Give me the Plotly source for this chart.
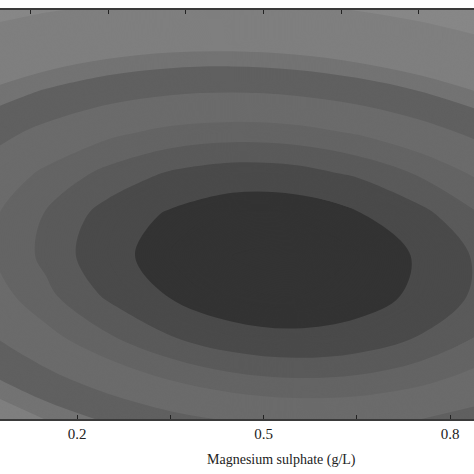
import plotly.graph_objects as go

# Magnesium sulphate (g/L) grid positions
magnesium = [0.05, 0.15, 0.25, 0.35, 0.45, 0.55, 0.65, 0.75, 0.85]
# second factor (axis hidden in the reference crop), normalised 0..1
factor2 = [0.0, 0.1, 0.2, 0.3, 0.4, 0.5, 0.6, 0.7, 0.8, 0.9, 1.0]
# estimated response surface (rows follow factor2, columns follow magnesium)
response = [
    [227.3, 206.3, 188.1, 173.4, 163.0, 157.9, 158.8, 165.5, 177.1],
    [197.0, 173.3, 152.2, 134.8, 122.5, 117.1, 119.8, 129.7, 145.4],
    [171.0, 144.3, 119.6, 98.1, 82.5, 76.5, 82.4, 98.0, 119.4],
    [151.9, 122.4, 93.7, 66.5, 44.1, 36.4, 50.9, 75.6, 103.5],
    [142.2, 111.7, 81.2, 50.7, 20.6, 11.8, 41.7, 72.1, 102.6],
    [144.0, 115.4, 88.1, 63.8, 47.5, 48.0, 65.0, 89.5, 117.0],
    [156.8, 132.3, 110.8, 94.4, 86.2, 88.4, 100.3, 119.1, 142.1],
    [178.2, 158.2, 141.9, 130.7, 126.3, 129.1, 138.7, 153.9, 173.3],
    [205.7, 189.5, 177.0, 169.2, 166.8, 169.9, 178.3, 191.2, 207.9],
    [237.1, 223.9, 214.2, 208.6, 207.4, 210.7, 218.3, 229.7, 244.4],
    [271.0, 260.2, 252.5, 248.4, 248.1, 251.6, 258.6, 268.9, 282.2],
]
# band thresholds and grey tones of the filled contours
thresholds = [0, 68, 97, 117, 137, 166, 192, 207, 258, 300]
greys = ["#333333", "#4a4a4a", "#5a5a5a", "#646464", "#6b6b6b",
         "#606060", "#737373", "#7f7f7f", "#878787"]

bottom_ticks = [0.2, 0.35, 0.5, 0.65, 0.8]
bottom_labels = ["0.2", "", "0.5", "", "0.8"]
top_ticks = [0.125, 0.25, 0.375, 0.5, 0.625, 0.75]

ZMAX = thresholds[-1]
colorscale = []
for i, g in enumerate(greys):
    colorscale.append([thresholds[i] / ZMAX, g])
    colorscale.append([thresholds[i + 1] / ZMAX, g])

x_range = [0.0761, 0.8385]

fig = go.Figure()
fig.add_trace(go.Contour(
    x=magnesium, y=factor2, z=response,
    colorscale=colorscale, zmin=0, zmax=ZMAX, autocontour=False,
    contours=dict(start=0, end=ZMAX, size=1, coloring="fill", showlines=False),
    line=dict(width=0, smoothing=1.0),
    showscale=False, hoverinfo="skip",
))
# invisible trace to anchor the top axis
fig.add_trace(go.Scatter(x=x_range, y=[0.5, 0.5], xaxis="x2", mode="lines",
                         line=dict(width=0), showlegend=False, hoverinfo="skip"))

axis_font = dict(family="Liberation Serif, Times New Roman, serif", size=15, color="#222222")
fig.update_layout(
    width=474, height=474,
    margin=dict(l=0, r=0, t=10, b=55, pad=0),
    paper_bgcolor="white", plot_bgcolor="white",
    showlegend=False,
    xaxis=dict(range=x_range, tickvals=bottom_ticks, ticktext=bottom_labels,
               ticks="inside", ticklen=4, tickwidth=1, tickcolor="#222222",
               showline=True, linecolor="#3a3a3a", linewidth=1.5,
               showgrid=False, zeroline=False, tickfont=axis_font,
               automargin=False, ticklabelstandoff=0),
    xaxis2=dict(range=x_range, overlaying="x", side="top", anchor="y",
                tickvals=top_ticks, showticklabels=False,
                ticks="inside", ticklen=4, tickwidth=1, tickcolor="#222222",
                showline=True, linecolor="#3a3a3a", linewidth=1.5,
                showgrid=False, zeroline=False, automargin=False),
    yaxis=dict(range=[0, 1], showticklabels=False, ticks="", showline=False,
               showgrid=False, zeroline=False, automargin=False),
    annotations=[dict(text="Magnesium sulphate (g/L)", xref="paper", yref="paper",
                      x=281 / 474, y=-0.1002, xanchor="center", yanchor="middle",
                      showarrow=False,
                      font=dict(family="Liberation Serif, Times New Roman, serif",
                                size=14, color="#222222"))],
)

fig.write_html("out.html", config={"displayModeBar": False},
               post_script="document.body.style.margin='0';document.body.style.overflow='hidden';")
